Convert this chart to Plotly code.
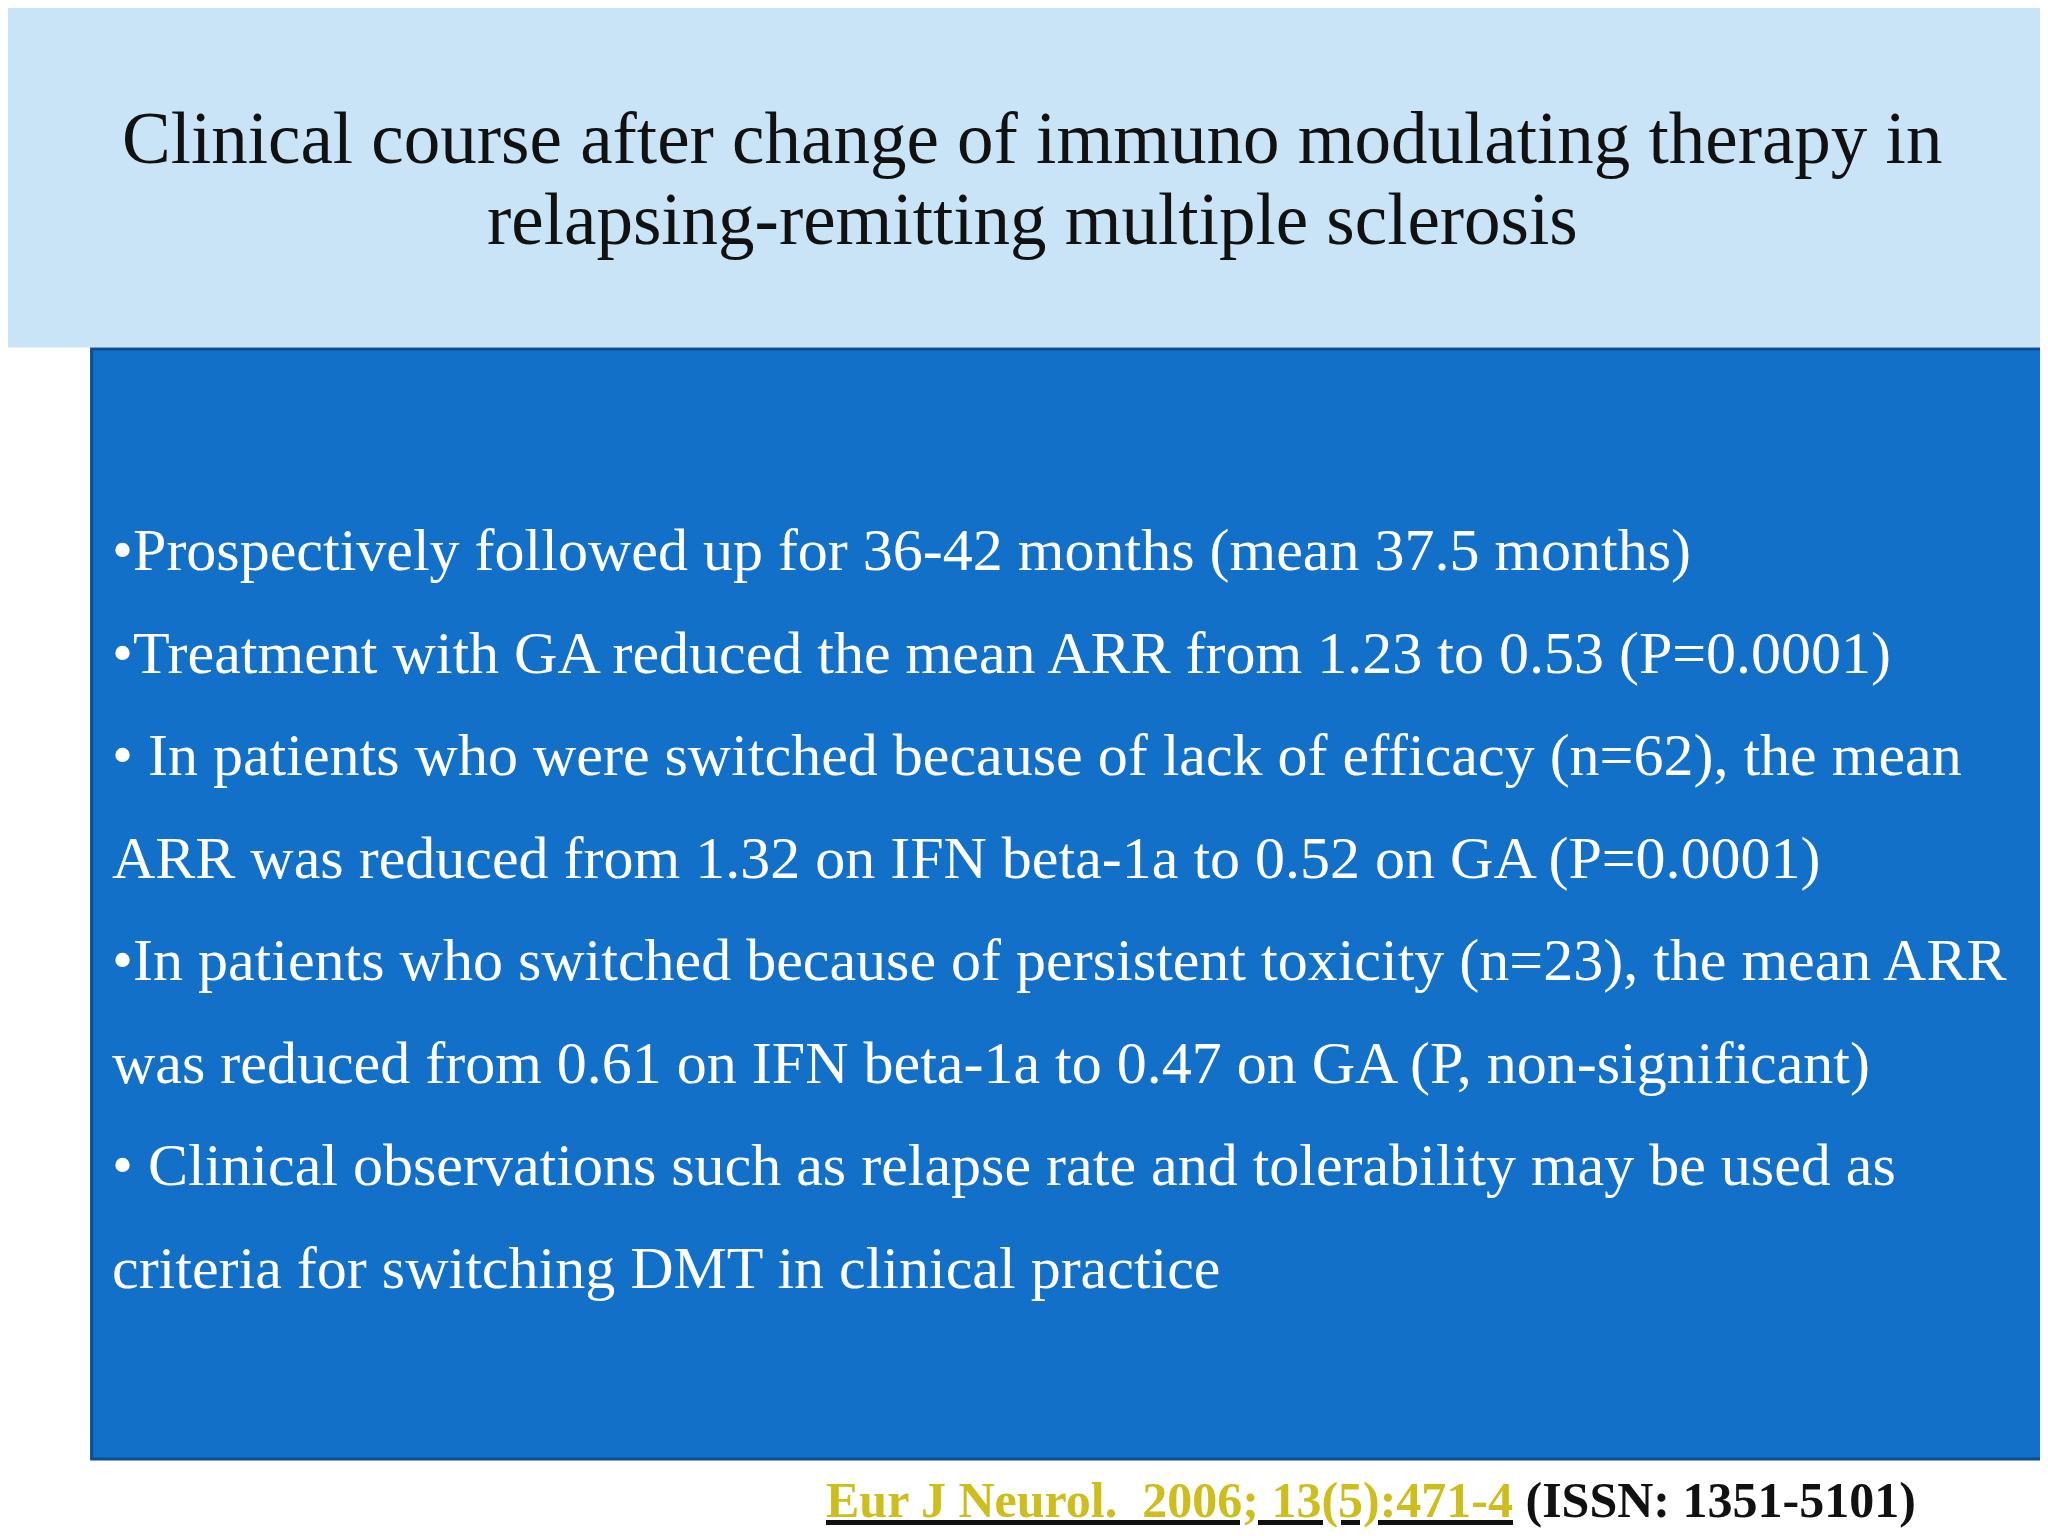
import plotly.graph_objects as go

# slide text
title_lines = ["Clinical course after change of immuno modulating therapy in",
               "relapsing-remitting multiple sclerosis"]
body_lines = [
    "•Prospectively followed up for 36-42 months (mean 37.5 months)",
    "•Treatment with GA reduced the mean ARR from 1.23 to 0.53 (P=0.0001)",
    "• In patients who were switched because of lack of efficacy (n=62), the mean",
    "ARR was reduced from 1.32 on IFN beta-1a to 0.52 on GA (P=0.0001)",
    "•In patients who switched because of persistent toxicity (n=23), the mean ARR",
    "was reduced from 0.61 on IFN beta-1a to 0.47 on GA (P, non-significant)",
    "• Clinical observations such as relapse rate and tolerability may be used as",
    "criteria for switching DMT in clinical practice",
]
ref_text = "Eur J Neurol.  2006; 13(5):471-4"
issn_text = " (ISSN: 1351-5101)"

W, H = 1568, 1176  # layout units of the slide
fnt = "Liberation Serif"

fig = go.Figure()
fig.update_xaxes(range=[0, W], visible=False, fixedrange=True)
fig.update_yaxes(range=[H, 0], visible=False, fixedrange=True)

# header band and content box
fig.add_shape(type="rect", x0=-10, x1=W + 10, y0=-10, y1=260, fillcolor="#C9E3F7", line_width=0, layer="below")
fig.add_shape(type="rect", x0=64, x1=W + 10, y0=261, y1=1111, fillcolor="#1370C8",
              line=dict(color="#0B4E94", width=3), layer="below")

for i, t in enumerate(title_lines):
    fig.add_annotation(x=784, y=100 + i * 62, text=t, showarrow=False, xanchor="center", yanchor="middle",
                       font=dict(family=fnt, size=73, color="#111111"))

for i, t in enumerate(body_lines):
    fig.add_annotation(x=78, y=415 + i * 78.5, text=t, showarrow=False, xanchor="left", yanchor="middle",
                       font=dict(family=fnt, size=60, color="white"))

fig.add_annotation(x=1462, y=1142, showarrow=False, xanchor="right", yanchor="middle",
                   text=f"<b><u><span style='color:#CDBE1E'>{ref_text}</span></u>{issn_text}</b>",
                   font=dict(family=fnt, size=50, color="#111111"))

fig.update_layout(width=2048, height=1536, margin=dict(l=0, r=0, t=0, b=0),
                  plot_bgcolor="white", paper_bgcolor="white", showlegend=False)
fig.write_html("out.html")
